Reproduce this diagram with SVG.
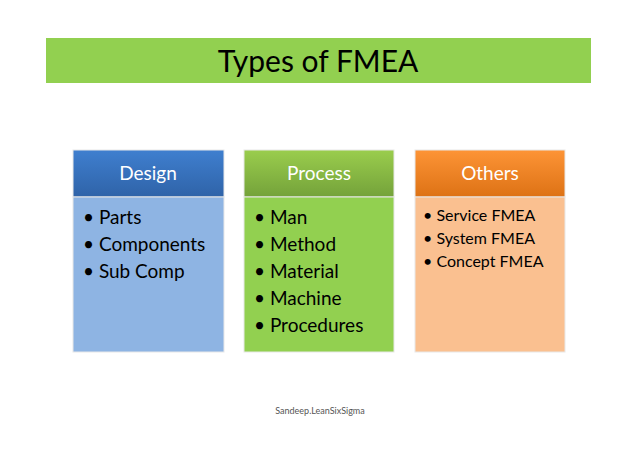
<svg xmlns="http://www.w3.org/2000/svg" width="638" height="451" viewBox="0 0 638 451">
<defs>
<linearGradient id="gb" x1="0" y1="0" x2="0" y2="1"><stop offset="0" stop-color="#3f7fcf"/><stop offset="1" stop-color="#2f63a8"/></linearGradient>
<linearGradient id="gg" x1="0" y1="0" x2="0" y2="1"><stop offset="0" stop-color="#9acd4d"/><stop offset="1" stop-color="#74a23a"/></linearGradient>
<linearGradient id="go" x1="0" y1="0" x2="0" y2="1"><stop offset="0" stop-color="#fd9436"/><stop offset="1" stop-color="#dd7215"/></linearGradient>
</defs>
<style>
text{font-family:Lato,"Open Sans",sans-serif}
.h{fill:#fff;font-size:19px;text-anchor:middle}
.b{fill:#000;font-size:19px}
.s{fill:#000;font-size:16px}
.box{stroke:#e8e8e8;stroke-width:1}
</style>
<rect width="638" height="451" fill="#fff"/>
<g id="title"><rect x="46" y="38" width="545" height="45" fill="#92d050"/><text x="318" y="72" font-size="30" text-anchor="middle" fill="#000">Types of FMEA</text></g>
<g id="design">
<rect class="box" x="73" y="150" width="151" height="47" fill="url(#gb)"/>
<rect class="box" x="73" y="197" width="151" height="155" fill="#8eb4e3"/>
<text class="h" x="148" y="180">Design</text>
<text class="b" x="83" y="224">• Parts</text><text class="b" x="83" y="251">• Components</text><text class="b" x="83" y="278">• Sub Comp</text>
</g>
<g id="process">
<rect class="box" x="244" y="150" width="150" height="47" fill="url(#gg)"/>
<rect class="box" x="244" y="197" width="150" height="155" fill="#92d050"/>
<text class="h" x="319" y="180">Process</text>
<text class="b" x="254" y="224">• Man</text><text class="b" x="254" y="251">• Method</text><text class="b" x="254" y="278">• Material</text><text class="b" x="254" y="305">• Machine</text><text class="b" x="254" y="332">• Procedures</text>
</g>
<g id="others">
<rect class="box" x="415" y="150" width="150" height="47" fill="url(#go)"/>
<rect class="box" x="415" y="197" width="150" height="155" fill="#fac090"/>
<text class="h" x="490" y="180">Others</text>
<text class="s" x="423" y="221">• Service FMEA</text><text class="s" x="423" y="244">• System FMEA</text><text class="s" x="423" y="267">• Concept FMEA</text>
</g>
<text x="320" y="414" font-size="9" text-anchor="middle" fill="#555">Sandeep.LeanSixSigma</text>
<g id="connectors"/>
</svg>
